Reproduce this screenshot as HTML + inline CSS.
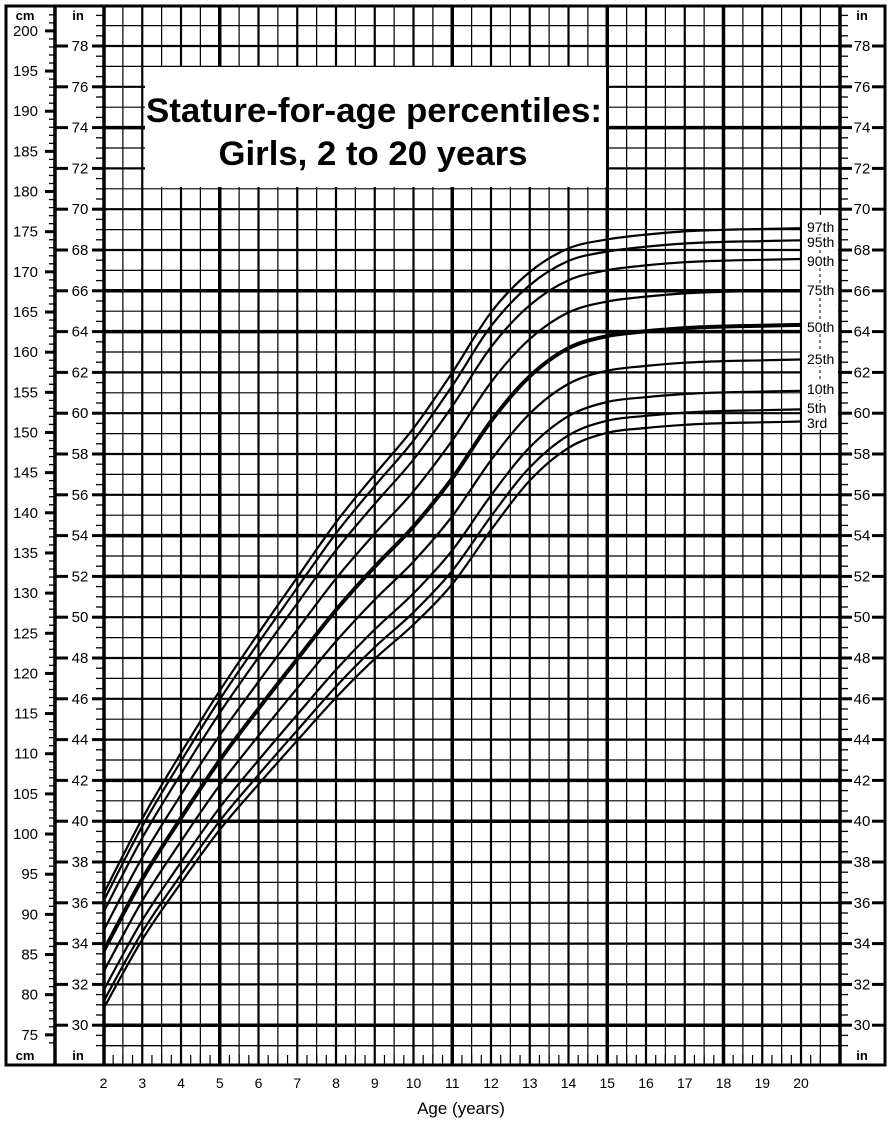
<!DOCTYPE html>
<html><head><meta charset="utf-8">
<style>
html,body{margin:0;padding:0;background:#fff;}
svg{display:block;}
text{font-family:"Liberation Sans",Arial,sans-serif;fill:#000;}
</style></head>
<body>
<svg id="s" width="892" height="1123" viewBox="0 0 892 1123" xmlns="http://www.w3.org/2000/svg"></svg>
<script>
(function(){
var s=document.getElementById('s');var out=[];
function X(a){return 103.5+(a-2)*38.75;}
function Yi(i){return 46+(78-i)*20.4;}
function Yc(c){return Yi(c/2.54);}
function L(x1,y1,x2,y2,w){out.push('<line x1="'+x1+'" y1="'+y1+'" x2="'+x2+'" y2="'+y2+'" stroke="#000" stroke-width="'+w+'"/>');}
function T(x,y,t,sz,anc,wt,tl){out.push('<text x="'+x+'" y="'+y+'" font-size="'+sz+'" text-anchor="'+(anc||'middle')+'"'+(wt?' font-weight="bold"':'')+(tl?' textLength="'+tl+'" lengthAdjust="spacingAndGlyphs"':'')+'>'+t+'</text>');}
var top=5,bot=1066,gl=104,gr=840;
for(var a=2;a<=20.5001;a+=0.5){
  var w=1.2; if(Math.abs(a-Math.round(a))<0.01) w=2.2;
  if([2,5,11,15,18].indexOf(Math.round(a*2)/2)>=0) w=3.5;
  L(X(a),top,X(a),bot,w);
}
var bold=[30,40,42,52,54,64,66,74];
for(var i=29;i<=79;i++){
  var w=(i%2==0)?2.2:1.2; if(bold.indexOf(i)>=0) w=3.5;
  L(gl,Yi(i),gr,Yi(i),w);
}
for(var a=2;a<20.75;a+=0.25){ L(X(a),1055,X(a),bot,1.2);}
out.push('<rect x="145" y="67" width="461" height="120" fill="#fff"/>');
T(374,122,'Stature-for-age percentiles:',34,'middle',1,456);
T(373,165,'Girls, 2 to 20 years',34,'middle',1,309);
var ages=[2,3,4,5,6,7,8,9,10,11,12,13,14,15,16,17,18,19,20];
var p50=[85.4,94.4,102,109.2,115.6,121.8,127.9,133.3,138.3,144.3,151.4,157,160.5,162,162.6,163,163.2,163.3,163.4];
var sd=[3.8,4.0,4.3,4.6,5.0,5.4,5.8,6.1,6.5,7.0,7.2,6.9,6.6,6.4,6.4,6.4,6.4,6.4,6.4];
var zs=[-1.881,-1.645,-1.282,-0.674,0,0.674,1.282,1.645,1.881];
zs.forEach(function(z){
  var pts=ages.map(function(a,k){return [X(a),Yc(p50[k]+z*sd[k])];});
  var d='M'+pts[0][0].toFixed(1)+','+pts[0][1].toFixed(1);
  for(var k=0;k<pts.length-1;k++){
    var p0=pts[Math.max(k-1,0)],p1=pts[k],p2=pts[k+1],p3=pts[Math.min(k+2,pts.length-1)];
    var c1=[p1[0]+(p2[0]-p0[0])/6,p1[1]+(p2[1]-p0[1])/6];
    var c2=[p2[0]-(p3[0]-p1[0])/6,p2[1]-(p3[1]-p1[1])/6];
    d+=' C'+c1[0].toFixed(1)+','+c1[1].toFixed(1)+' '+c2[0].toFixed(1)+','+c2[1].toFixed(1)+' '+p2[0].toFixed(1)+','+p2[1].toFixed(1);
  }
  out.push('<path d="'+d+'" fill="none" stroke="#000" stroke-width="'+(z==0?4:2.2)+'"/>');
});
out.push('<rect x="802" y="215" width="36" height="215" fill="#fff"/>');
out.push('<line x1="820" y1="232" x2="820" y2="425" stroke="#000" stroke-width="1" stroke-dasharray="3,3"/>');
var lab=[['97th',232],['95th',247],['90th',266],['75th',295],['50th',332],['25th',364],['10th',394],['5th',413],['3rd',428]];
lab.forEach(function(l){out.push('<rect x="806" y="'+(l[1]-12)+'" width="'+(l[0].length*8+2)+'" height="14" fill="#fff"/>');T(807,l[1],l[0],14,'start');});
out.push('<rect x="5" y="5" width="99" height="1061" fill="#fff"/>');
out.push('<rect x="840" y="5" width="46" height="1061" fill="#fff"/>');
for(var c=74;c<=202;c++){var y=Yc(c); if(y<8||y>1063)continue;
  if(c%5==0){L(45,y,55,y,3);T(38,y+5,c,15,'end');} else L(49,y,55,y,1.3);}
for(var h=58;h<=159;h++){var i=h/2,y=Yi(i); if(y<8||y>1063)continue;
  if(h%2==1||i%2==1){L(96,y,104,y,1.3);L(840,y,848,y,1.3);}
  else {L(56,y,68,y,3);L(92,y,104,y,3);T(80,y+5,i,15);L(840,y,852,y,3);L(872,y,886,y,3);T(862,y+5,i,15);}
}
L(gl,Yi(29),gr,Yi(29),1.2);
T(25,20,'cm',13,'middle',1);T(78,20,'in',13,'middle',1);T(862,20,'in',13,'middle',1);
T(25,1060,'cm',13,'middle',1);T(78,1060,'in',13,'middle',1);T(862,1060,'in',13,'middle',1);
L(55,5,55,1066,3.5);L(gl,5,gl,1066,3.5);L(840,5,840,1066,3.5);
out.push('<rect x="6" y="6" width="879" height="1059" fill="none" stroke="#000" stroke-width="3"/>');
for(var a=2;a<=20;a++)T(X(a),1088,a,14);
T(461,1114,'Age (years)',17);
s.innerHTML=out.join('');
})();
</script>
</body></html>
